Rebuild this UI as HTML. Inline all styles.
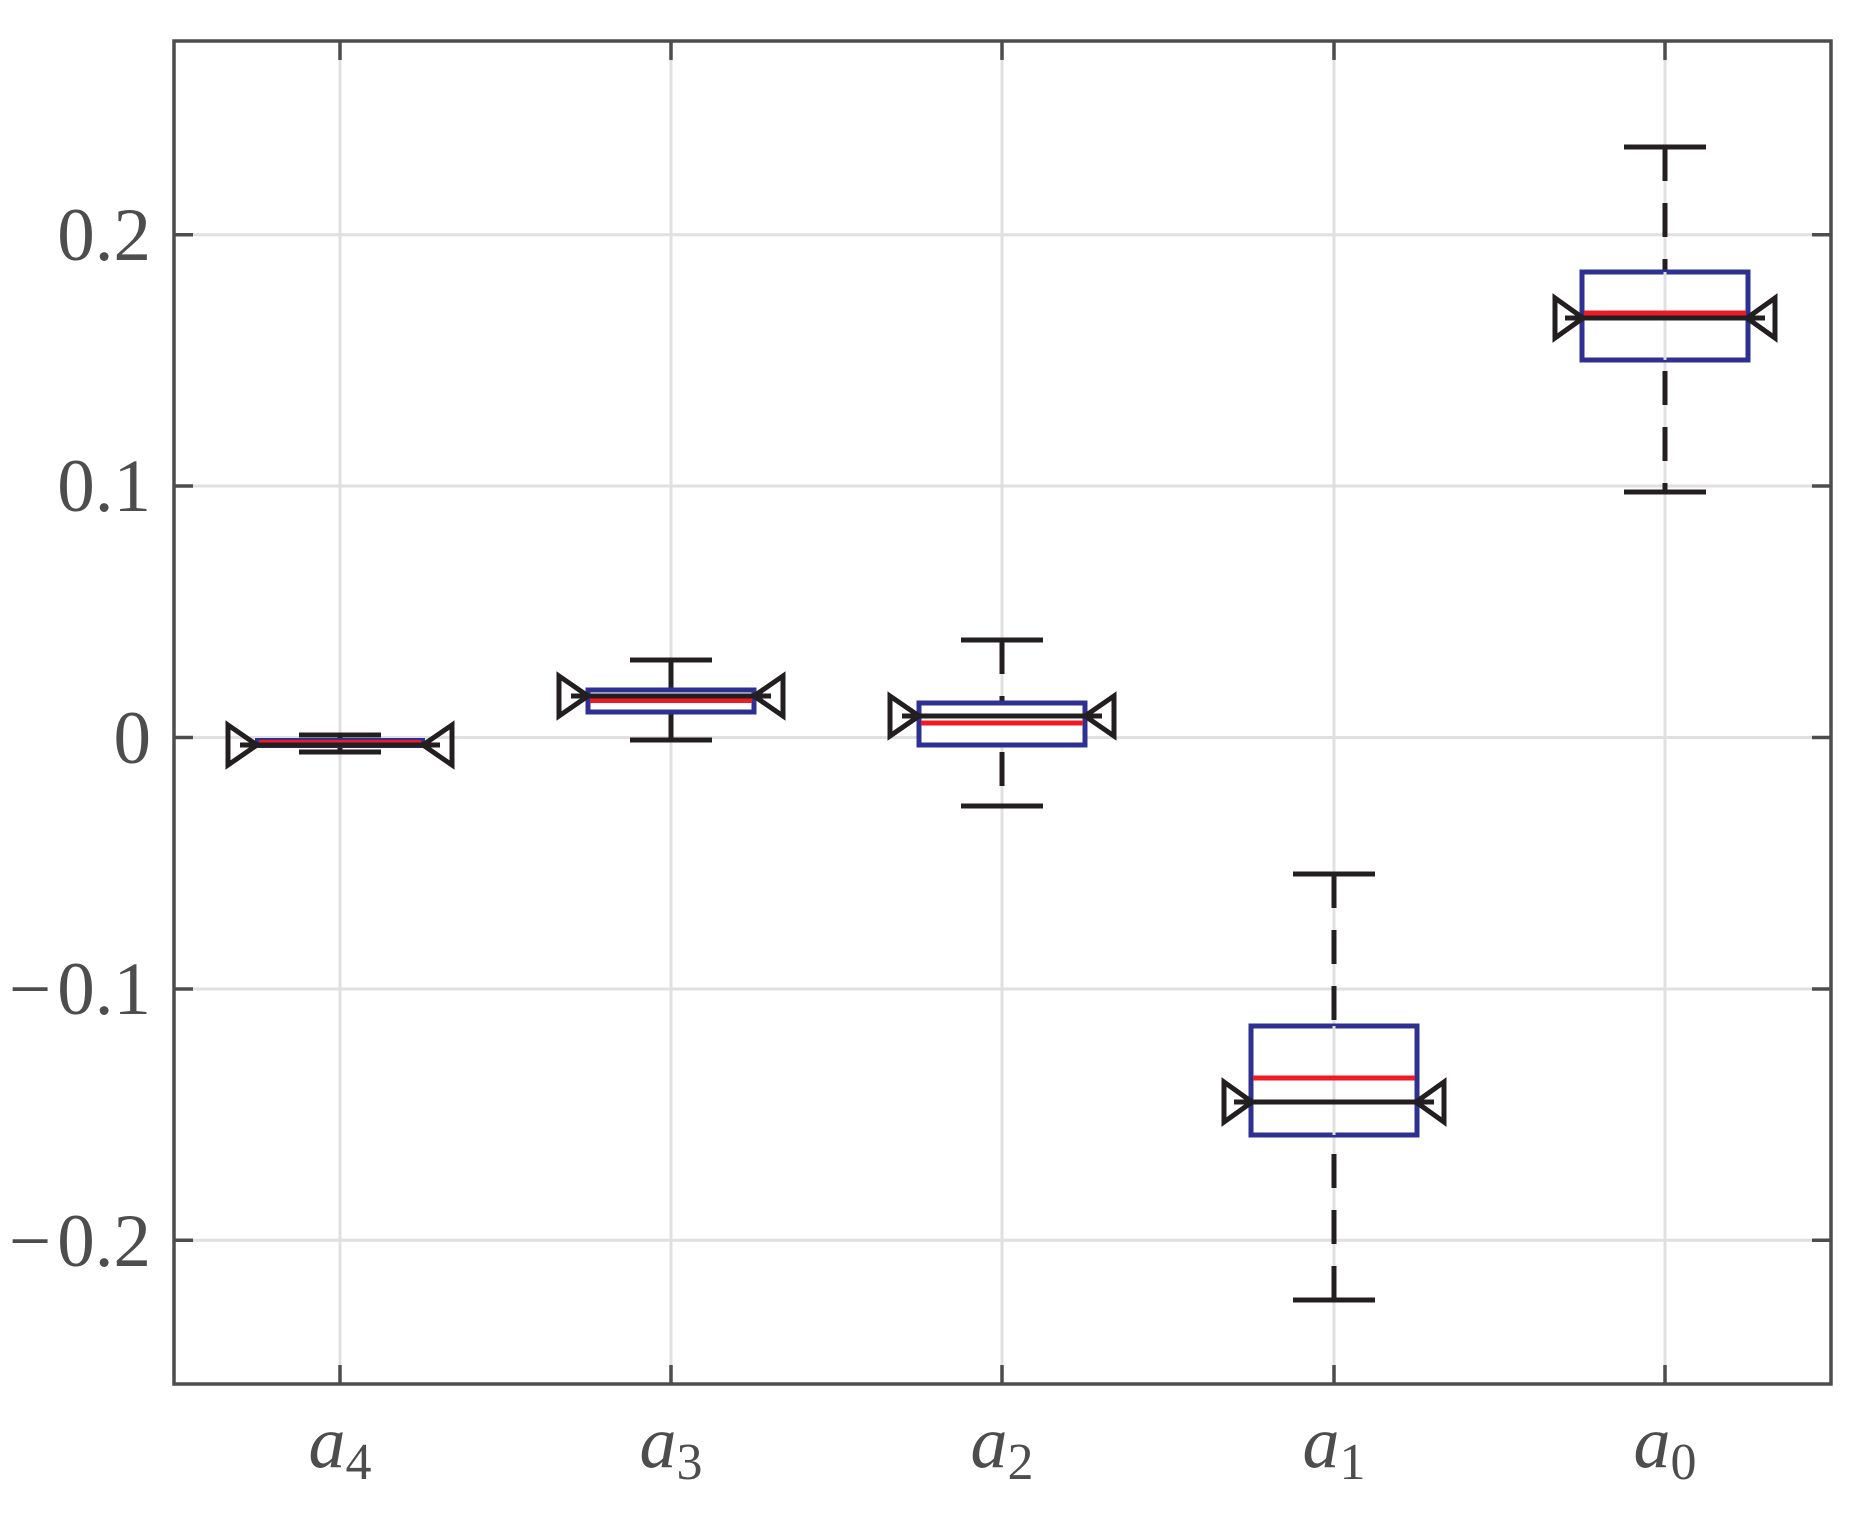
<!DOCTYPE html>
<html><head><meta charset="utf-8"><style>html,body{margin:0;padding:0;background:#fff}svg{display:block}</style></head><body>
<svg width="1863" height="1513" viewBox="0 0 1863 1513" xmlns="http://www.w3.org/2000/svg">
<rect width="1863" height="1513" fill="#fff"/>
<g stroke="#e0e0e0" stroke-width="3">
<line x1="340" y1="41" x2="340" y2="1384"/><line x1="671" y1="41" x2="671" y2="1384"/><line x1="1002" y1="41" x2="1002" y2="1384"/><line x1="1334" y1="41" x2="1334" y2="1384"/><line x1="1665" y1="41" x2="1665" y2="1384"/>
<line x1="174" y1="234.7" x2="1831" y2="234.7"/><line x1="174" y1="486" x2="1831" y2="486"/><line x1="174" y1="737.5" x2="1831" y2="737.5"/><line x1="174" y1="989" x2="1831" y2="989"/><line x1="174" y1="1240.3" x2="1831" y2="1240.3"/>
</g>
<g stroke="#4d4d4d" stroke-width="3.5">
<rect x="174" y="41" width="1657" height="1343" fill="none"/>
<path d="M340 41v19M671 41v19M1002 41v19M1334 41v19M1665 41v19M340 1384v-19M671 1384v-19M1002 1384v-19M1334 1384v-19M1665 1384v-19"/>
<path d="M174 234.7h19M174 486h19M174 737.5h19M174 989h19M174 1240.3h19M1831 234.7h-19M1831 486h-19M1831 737.5h-19M1831 989h-19M1831 1240.3h-19"/>
</g>
<g font-family="Liberation Serif, serif" font-size="75" fill="#4d4d4d" text-anchor="end">
<text x="151" y="260">0.2</text><text x="151" y="511">0.1</text><text x="151" y="763">0</text><text x="151" y="1014"><tspan>−</tspan><tspan dx="6">0.1</tspan></text><text x="151" y="1266"><tspan>−</tspan><tspan dx="6">0.2</tspan></text>
</g>
<g font-family="Liberation Serif, serif" font-size="74" fill="#4d4d4d" font-style="italic" text-anchor="middle">
<text x="340" y="1467">a<tspan font-size="52" font-style="normal" dy="12">4</tspan></text>
<text x="671" y="1467">a<tspan font-size="52" font-style="normal" dy="12">3</tspan></text>
<text x="1002" y="1467">a<tspan font-size="52" font-style="normal" dy="12">2</tspan></text>
<text x="1334" y="1467">a<tspan font-size="52" font-style="normal" dy="12">1</tspan></text>
<text x="1665" y="1467">a<tspan font-size="52" font-style="normal" dy="12">0</tspan></text>
</g>
<g stroke-width="5" fill="none">
<g transform="translate(340,0)">
<line x1="0" y1="735" x2="0" y2="752" stroke="#231f20"/>
<line x1="-41" y1="735" x2="41" y2="735" stroke="#231f20"/><line x1="-41" y1="752" x2="41" y2="752" stroke="#231f20"/>
<rect x="-83" y="740" width="166" height="6" stroke="#2e3192" stroke-width="4"/>
<line x1="-81" y1="742" x2="81" y2="742" stroke="#ed1c24" stroke-width="4"/>
<line x1="-100" y1="745" x2="100" y2="745" stroke="#231f20"/>
<path d="M-112 725L-83 745L-112 765Z M112 725L83 745L112 765Z" stroke="#231f20"/>
</g>
<g transform="translate(671,0)">
<line x1="0" y1="660" x2="0" y2="740" stroke="#231f20"/>
<line x1="-41" y1="660" x2="41" y2="660" stroke="#231f20"/><line x1="-41" y1="740" x2="41" y2="740" stroke="#231f20"/>
<rect x="-83" y="690" width="166" height="22" fill="#fff" stroke="#2e3192"/>
<line x1="-81" y1="700.5" x2="81" y2="700.5" stroke="#ed1c24"/>
<line x1="-100" y1="696" x2="100" y2="696" stroke="#231f20"/>
<path d="M-112 676L-83 696L-112 716Z M112 676L83 696L112 716Z" stroke="#231f20"/>
</g>
<g transform="translate(1002,0)">
<line x1="0" y1="640" x2="0" y2="806" stroke="#231f20" stroke-dasharray="34,22"/>
<line x1="-41" y1="640" x2="41" y2="640" stroke="#231f20"/><line x1="-41" y1="806" x2="41" y2="806" stroke="#231f20"/>
<rect x="-83" y="703" width="166" height="42" fill="#fff" stroke="#2e3192"/>
<line x1="-81" y1="723" x2="81" y2="723" stroke="#ed1c24"/>
<line x1="-100" y1="716" x2="100" y2="716" stroke="#231f20"/>
<path d="M-112 696L-83 716L-112 736Z M112 696L83 716L112 736Z" stroke="#231f20"/>
</g>
<g transform="translate(1334,0)">
<line x1="0" y1="874" x2="0" y2="1300" stroke="#231f20" stroke-dasharray="34,22"/>
<line x1="-41" y1="874" x2="41" y2="874" stroke="#231f20"/><line x1="-41" y1="1300" x2="41" y2="1300" stroke="#231f20"/>
<rect x="-83" y="1026" width="166" height="109" fill="#fff" stroke="#2e3192"/>
<line x1="0" y1="1026" x2="0" y2="1135" stroke="#e0e0e0" stroke-width="3"/>
<line x1="-81" y1="1078" x2="81" y2="1078" stroke="#ed1c24"/>
<line x1="-100" y1="1102" x2="100" y2="1102" stroke="#231f20"/>
<path d="M-110 1082L-82 1102L-110 1122Z M110 1082L82 1102L110 1122Z" stroke="#231f20"/>
</g>
<g transform="translate(1665,0)">
<line x1="0" y1="147" x2="0" y2="492" stroke="#231f20" stroke-dasharray="34,22"/>
<line x1="-41" y1="147" x2="41" y2="147" stroke="#231f20"/><line x1="-41" y1="492" x2="41" y2="492" stroke="#231f20"/>
<rect x="-83" y="272" width="166" height="88" fill="#fff" stroke="#2e3192"/>
<line x1="0" y1="272" x2="0" y2="360" stroke="#e0e0e0" stroke-width="3"/>
<line x1="-81" y1="313" x2="81" y2="313" stroke="#ed1c24"/>
<line x1="-100" y1="318" x2="100" y2="318" stroke="#231f20"/>
<path d="M-110 298L-82 318L-110 338Z M110 298L82 318L110 338Z" stroke="#231f20"/>
</g>
</g>
</svg>
</body></html>
